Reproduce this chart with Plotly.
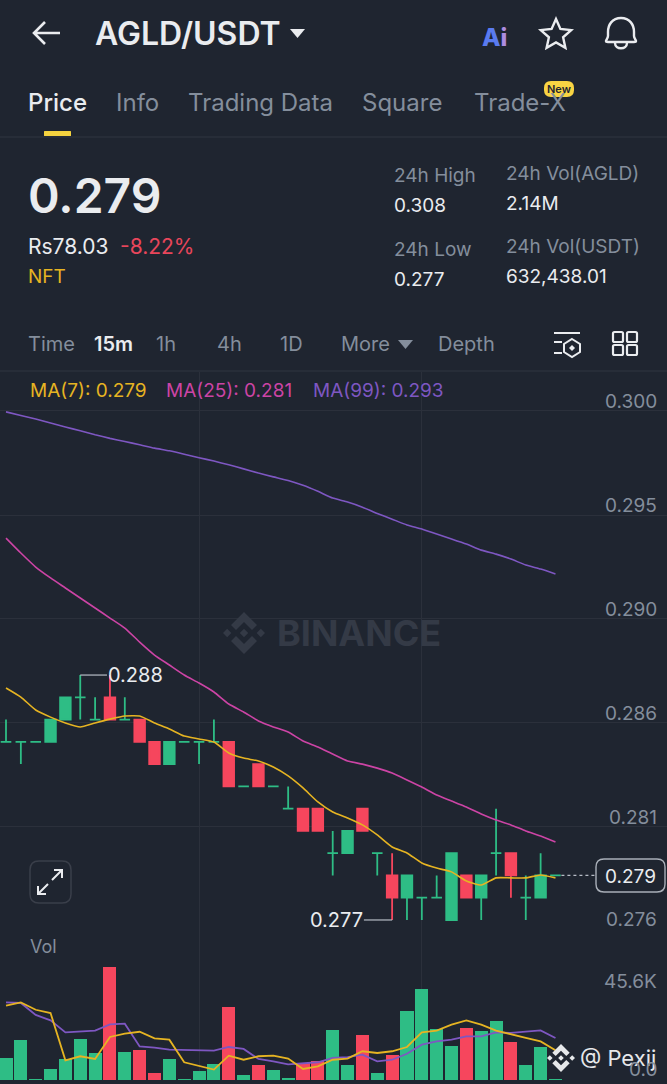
import math
from plotly import graph_objs as go

# candle values (price)
opens = [.285,.285,.285,.285,.286,.287,.286,.287,.286,.286,.285,.284,.285,.285,.285,.285,.283,.284,.283,.282,
         .282,.282,.280,.280,.282,.280,.279,.278,.278,.278,.277,.279,.278,.280,.280,.278,.278,.279]
highs = [.286,.285,.285,.286,.287,.288,.287,.288,.287,.286,.285,.285,.285,.285,.286,.285,.283,.284,.283,.283,
         .282,.282,.281,.281,.282,.280,.280,.279,.278,.279,.280,.279,.279,.282,.280,.279,.280,.279]
lows = [.285,.284,.285,.285,.286,.286,.286,.286,.286,.285,.284,.284,.285,.284,.285,.283,.283,.283,.283,.282,
        .281,.281,.279,.280,.281,.279,.277,.277,.277,.278,.277,.278,.277,.279,.278,.277,.278,.279]
closes = [.285,.285,.285,.286,.287,.287,.286,.286,.286,.285,.284,.285,.285,.285,.285,.283,.283,.283,.283,.282,
          .281,.281,.280,.281,.281,.280,.278,.279,.278,.278,.280,.278,.279,.280,.279,.278,.279,.279]

ma7 = [.28742,.28701,.28643,.28611,.28585,.28567,.28585,.28602,.28616,.28616,.28585,.28558,.28526,.28513,.28499,
       .2845,.28427,.28414,.28387,.28347,.28293,.2823,.28185,.28158,.28127,.28082,.28028,.28001,.27956,.27933,
       .27916,.27875,.27857,.27889,.27889,.27889,.27902,.27889]
ma25 = [.29415,.29348,.29285,.29236,.29191,.29146,.29101,.29056,.29011,.28948,.2889,.28845,.288,.28764,.28724,
        .2867,.28634,.28594,.28567,.28544,.28504,.28477,.28445,.28414,.284,.28382,.2836,.28329,.28297,.28261,
        .28234,.28207,.28176,.28149,.28127,.281,.28077,.2805]
ma99 = [.29982,.29966,.2995,.29932,.29914,.29897,.29879,.29863,.29849,.29834,.29819,.29807,.29792,.29776,.29761,
        .29744,.29726,.29707,.2969,.29674,.29652,.29625,.29595,.29577,.29554,.29526,.295,.29474,.29456,.29433,
        .29411,.29388,.29361,.29343,.29321,.29294,.29276,.29254]

# volume, thousands
volumes = [11.4,20.9,0.05,5.7,10.9,21.4,14.0,58.5,14.7,15.4,3.6,11.0,0.05,4.5,8.3,37.8,2.4,7.6,5.3,1.0,
           8.8,9.7,25.7,7.9,23.1,3.6,13.1,35.9,47.2,26.4,17.8,26.8,25.5,30.4,19.5,7.9,17.1,0.05]
vol_ma_yellow = [38.5,40.2,36.4,34.7,10.2,12.3,10.9,22.3,24.0,25.0,21.6,20.9,9.2,7.1,5.4,12.6,10.5,12.3,12.6,11.1,
                 5.7,7.1,10.5,11.1,14.9,14.0,14.9,17.1,24.7,25.6,28.7,30.9,28.7,25.6,23.5,21.8,20.0,15.4]
vol_ma_purple = [40.2,39.9,33.7,30.9,24.7,25.2,25.6,28.8,29.2,17.4,16.8,15.7,15.5,15.5,15.2,17.1,16.1,10.9,9.7,8.1,
                 8.5,9.2,11.4,11.9,13.1,9.7,10.5,13.6,18.3,20.0,20.9,22.6,22.6,24.7,24.4,25.2,25.7,21.8]

price_ticks = [.29986,.29518,.29052,.28585,.28118,.27646]
price_tick_labels = ["0.300","0.295","0.290","0.286","0.281","0.276"]
vol_ticks = [45.6,0.0]
vol_tick_labels = ["45.6K","0.0"]
time_grid = [13,28]
last_price = .279

BG = "#1F2530"
GRID = "#2B303B"
GREEN = "#2EBD85"
RED = "#F6465D"
WHITE = "#EAECEF"
GREY = "#848E9C"
YELLOW = "#E6B422"
PINK = "#CC44A5"
PURPLE = "#7E57C2"
FONT = "Inter"

idx = list(range(len(closes)))
up = [c >= o for o, c in zip(opens, closes)]

fig = go.Figure()


def candle_trace(keep, color):
    pick = lambda arr: [v if k else None for v, k in zip(arr, keep)]
    return go.Candlestick(x=idx, open=pick(opens), high=pick(highs), low=pick(lows), close=pick(closes),
                          increasing=dict(line=dict(color=color, width=1.8), fillcolor=color),
                          decreasing=dict(line=dict(color=color, width=1.8), fillcolor=color),
                          whiskerwidth=0, hoverinfo="skip", showlegend=False)


fig.add_trace(candle_trace(up, GREEN))
fig.add_trace(candle_trace([not u for u in up], RED))

for vals, col in [(ma99, PURPLE), (ma25, PINK), (ma7, YELLOW)]:
    fig.add_trace(go.Scatter(x=idx, y=vals, mode="lines", line=dict(color=col, width=1.6, shape="spline", smoothing=0.5),
                             hoverinfo="skip", showlegend=False))

# leader lines for the high / low labels
fig.add_trace(go.Scatter(x=[5, 6.8], y=[max(highs)] * 2, mode="lines", line=dict(color="#B7BDC6", width=1.2),
                         hoverinfo="skip", showlegend=False))
fig.add_trace(go.Scatter(x=[24.1, 26], y=[min(lows)] * 2, mode="lines", line=dict(color="#B7BDC6", width=1.2),
                         hoverinfo="skip", showlegend=False))
fig.add_trace(go.Scatter(x=[37.4, 39.7], y=[last_price] * 2, mode="lines",
                         line=dict(color="#B7BDC6", width=1.2, dash="3px,3px"),
                         hoverinfo="skip", showlegend=False))

fig.add_trace(go.Bar(x=idx, y=volumes, width=0.88, marker=dict(color=[GREEN if u else RED for u in up], line_width=0),
                     xaxis="x2", yaxis="y2", hoverinfo="skip", showlegend=False))
for vals, col in [(vol_ma_purple, PURPLE), (vol_ma_yellow, YELLOW)]:
    fig.add_trace(go.Scatter(x=idx, y=vals, mode="lines", line=dict(color=col, width=1.8),
                             xaxis="x2", yaxis="y2", hoverinfo="skip", showlegend=False))

# empty trace so the pixel overlay axes exist; header and icons are placed on them
fig.add_trace(go.Scatter(x=[None], y=[None], xaxis="x3", yaxis="y3", hoverinfo="skip", showlegend=False))

notes = []


def label(x, y, text, size=19, color=WHITE, weight=400, anchor="left"):
    notes.append(dict(x=x - 1.5 if anchor == "left" else x, y=y, xref="x3", yref="y3", text=text, showarrow=False,
                      xanchor=anchor, yanchor="middle", borderpad=0,
                      font=dict(family=FONT, size=size, color=color, weight=weight)))


# header
label(95, 33, "AGLD/USDT", 32, WHITE, 600)
label(482, 37, '<span style="color:#5A7BEF">A</span><span style="color:#AE8CE0">i</span>', 24, "#5A7BEF", 800)
label(28, 102, "Price", 24, WHITE, 500)
label(116, 102, "Info", 24, GREY)
label(188, 102, "Trading Data", 24, GREY)
label(362, 102, "Square", 24, GREY)
label(474, 102, "Trade-X", 24, GREY)
label(559, 89, "New", 11, "#1F2530", 600, "center")

label(28, 195, "0.279", 48, WHITE, 600)
label(28, 246, "Rs78.03", 21, WHITE)
label(120, 246, "-8.22%", 21, "#E8465B")
label(28, 276, "NFT", 19, YELLOW)
label(394, 175, "24h High", 19, GREY)
label(394, 205, "0.308", 19, WHITE)
label(394, 249, "24h Low", 19, GREY)
label(394, 279, "0.277", 19, WHITE)
label(506, 173, "24h Vol(AGLD)", 19, GREY)
label(506, 203, "2.14M", 19, WHITE)
label(506, 246, "24h Vol(USDT)", 19, GREY)
label(506, 276, "632,438.01", 19, WHITE)

for x, t in [(28, "Time"), (156, "1h"), (217, "4h"), (280, "1D"), (341, "More"), (438, "Depth")]:
    label(x, 344, t, 20, GREY)
label(94, 344, "15m", 20, WHITE, 600)

label(30, 390, "MA(7): 0.279", 19, YELLOW)
label(166, 390, "MA(25): 0.281", 19, PINK)
label(313, 390, "MA(99): 0.293", 19, PURPLE)
label(277, 633, "BINANCE", 36, "#343A46", 700)
label(30, 946, "Vol", 18, GREY)
label(580, 1058, "@ Pexij", 22, "#E6E8EA")
label(630, 876, f"{last_price:.3f}", 19, WHITE, 400, "center")

# axis labels sit above their grid lines, the lowest one a little higher
for t, s in zip(price_ticks, price_tick_labels):
    notes.append(dict(x=658, y=t, xref="x3", yref="y", text=s, showarrow=False, xanchor="right",
                      yshift=0 if t == min(price_ticks) else -3,
                      yanchor="bottom", borderpad=0, font=dict(family=FONT, size=19, color=GREY)))
for t, s in zip(vol_ticks, vol_tick_labels):
    notes.append(dict(x=658, y=t, xref="x3", yref="y2", text=s, showarrow=False, xanchor="right", yshift=-2,
                      yanchor="bottom", borderpad=0, font=dict(family=FONT, size=19, color=GREY)))

notes.append(dict(x=6.8, y=max(highs), xref="x", yref="y", text=f"{max(highs):.3f}", showarrow=False, xanchor="left",
                  borderpad=0, font=dict(family=FONT, size=20, color=WHITE)))
notes.append(dict(x=24.1, y=min(lows), xref="x", yref="y", text=f"{min(lows):.3f}", showarrow=False, xanchor="right",
                  borderpad=0, font=dict(family=FONT, size=20, color=WHITE)))


def star_path(cx, cy, R, r):
    pts = []
    for k in range(10):
        rad = R if k % 2 == 0 else r
        a = -math.pi / 2 + k * math.pi / 5
        pts.append(f"{cx + rad * math.cos(a):.1f},{cy + rad * math.sin(a):.1f}")
    return "M" + " L".join(pts) + " Z"


def binance_logo(cx, cy, s):
    def poly(points):
        return "M" + " L".join(f"{cx + a * s:.1f},{cy + b * s:.1f}" for a, b in points) + " Z"
    d = 0.2
    out = [poly([(dx - d, 0), (dx, -d), (dx + d, 0), (dx, d)]) for dx in (-0.8, 0, 0.8)]
    for sgn in (1, -1):
        out.append(poly([(0, -1 * sgn), (0.62, -0.38 * sgn), (0.38, -0.14 * sgn), (0, -0.52 * sgn),
                         (-0.38, -0.14 * sgn), (-0.62, -0.38 * sgn)]))
    return " ".join(out)


def shape_path(path, line=None, fill=None, width=2.2):
    return dict(type="path", xref="x3", yref="y3", path=path, fillcolor=fill,
                line=dict(color=line, width=width if line else 0))


def round_rect(x0, y0, x1, y1, r):
    return (f"M{x0 + r},{y0} L{x1 - r},{y0} Q{x1},{y0} {x1},{y0 + r} L{x1},{y1 - r} Q{x1},{y1} {x1 - r},{y1} "
            f"L{x0 + r},{y1} Q{x0},{y1} {x0},{y1 - r} L{x0},{y0 + r} Q{x0},{y0} {x0 + r},{y0} Z")


shapes = [
    shape_path("M0,137 L667,137", GRID, None, 1.5),
    shape_path("M0,371 L667,371", GRID, None, 1.5),
    shape_path(round_rect(44, 131, 71, 136, 0.5), None, "#F5D33F"),
    shape_path(round_rect(544, 81, 574, 97, 7), None, "#F9D443"),
    # back arrow, dropdown, star, bell
    shape_path("M34,33 L60,33 M45,22 L34,33 L45,44", WHITE, None, 2.6),
    shape_path("M290,29 L305,29 L297.5,38 Z", None, WHITE),
    shape_path(star_path(556, 35, 16, 7.5), WHITE, None, 2.4),
    shape_path("M621,18 C612,18 608,25 608,32 L608,36 C608,38 606,40 606,41 Q606,42 608,42 L634,42 "
               "Q636,42 636,41 C636,40 634,38 634,36 L634,32 C634,25 630,18 621,18 Z M615,43 C615,50 627,50 627,43",
               WHITE, None, 2.4),
    # "More" dropdown and the chart setting icons
    shape_path("M398,340 L413,340 L405.5,349 Z", None, GREY),
    shape_path("M554,333 L580,333 M554,342 L562,342 M554,353 L562,353", WHITE, None, 2),
    shape_path("M572,339 L580,344 L580,352 L572,357 L564,352 L564,344 Z", WHITE, None, 2),
    shape_path("M572,345 L575,348 L572,351 L569,348 Z", None, WHITE),
    shape_path(" ".join(round_rect(x, y, x + 10, y + 10, 1.5) for x in (613, 627) for y in (332, 345)),
               WHITE, None, 2.2),
    # expand button
    shape_path(round_rect(30, 861, 71, 903, 9), "#3A3F4A", None, 1.5),
    shape_path("M38,894 L48,884 M38,886 L38,894 L46,894 M62,870 L52,880 M54,870 L62,870 L62,878", WHITE, None, 2),
    # price tag
    shape_path(round_rect(596, 859, 665, 892, 8), "#A9AFB8", BG, 1.4),
    # logos
    shape_path(binance_logo(244, 633, 21), None, "#343A46"),
    shape_path(binance_logo(561, 1058, 14), None, "#E6E8EA"),
]

x_range = [-0.404, 44.51]
axis_off = dict(showticklabels=False, ticks="", zeroline=False, showline=False)
fig.update_layout(
    width=667, height=1084, margin=dict(l=0, r=0, t=0, b=0),
    paper_bgcolor=BG, plot_bgcolor="rgba(0,0,0,0)", showlegend=False, hovermode=False,
    boxgap=0.286, boxgroupgap=0, bargap=0,
    xaxis=dict(domain=[0, 1], range=x_range, anchor="y", rangeslider_visible=False, tickvals=time_grid,
               showgrid=True, gridcolor=GRID, gridwidth=1.2, **axis_off),
    yaxis=dict(domain=[152 / 1084, 712 / 1084], range=[.27646, .30161], anchor="x", tickvals=price_ticks,
               showgrid=True, gridcolor=GRID, gridwidth=1.2, **axis_off),
    xaxis2=dict(domain=[0, 1], range=x_range, anchor="y2", tickvals=time_grid,
                showgrid=True, gridcolor=GRID, gridwidth=1.2, **axis_off),
    yaxis2=dict(domain=[4 / 1084, 152 / 1084], range=[0, 76.7], anchor="x2", showgrid=False, **axis_off),
    xaxis3=dict(domain=[0, 1], range=[0, 667], anchor="y3", visible=False),
    yaxis3=dict(domain=[0, 1], range=[1084, 0], anchor="x3", visible=False),
    annotations=notes, shapes=shapes,
)

fig.write_html("out.html", config=dict(displayModeBar=False),
               post_script="document.body.style.margin='0';document.documentElement.style.overflow='hidden';")
